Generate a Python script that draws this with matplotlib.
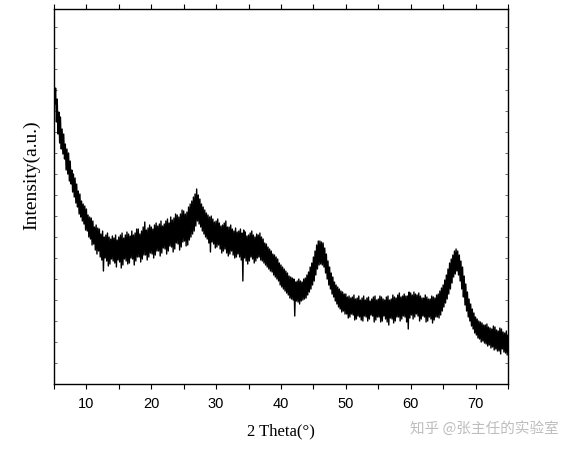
import numpy as np
import matplotlib
matplotlib.use('Agg')
import matplotlib.pyplot as plt
from matplotlib.ticker import MultipleLocator

# top and bottom of the noisy band, read every 0.25 deg from 5 to 75 (one row per degree)
upper = [303, 296, 285, 272,  267, 255, 250, 240,  235, 231, 223, 214,  210, 206, 200, 193,
         190, 183, 180, 178,  175, 169, 167, 166,  163, 157, 159, 156,  155, 150, 153, 147,
         149, 151, 147, 145,  148, 146, 149, 144,  147, 149, 151, 146,  149, 152, 150, 148,
         153, 149, 151, 155,  155, 150, 153, 157,  162, 154, 156, 159,  157, 155, 159, 161,
         158, 160, 163, 158,  160, 163, 165, 161,  167, 164, 166, 170,  169, 167, 170, 174,
         173, 170, 172, 177,  180, 183, 187, 190,  195, 189, 185, 180,  177, 174, 171, 169,
         167, 168, 165, 162,  163, 165, 161, 158,  159, 161, 163, 157,  157, 159, 155, 153,
         156, 152, 153, 155,  151, 154, 152, 148,  149, 151, 153, 149,  147, 150, 149, 151,
         147, 145, 141, 140,  137, 135, 133, 130,  129, 127, 125, 121,  119, 117, 115, 113,
         111, 108, 107, 106,  105, 102, 103, 105,  103, 102, 105, 106,  109, 112, 117, 121,
         127, 133, 139, 143,  143, 142, 141, 136,  130, 123, 117, 111,  107, 102, 99, 97,
         95, 93, 92, 90,      90, 87, 88, 86,      87, 89, 85, 86,      88, 84, 86, 88,
         84, 86, 87, 83,      85, 87, 88, 84,      85, 88, 87, 85,      84, 87, 88, 84,
         85, 89, 87, 86,      89, 91, 87, 88,      90, 88, 88, 92,      91, 89, 92, 90,
         89, 91, 88, 86,      86, 89, 87, 85,      85, 88, 87, 86,      89, 90, 93, 96,
         99, 104, 109, 115,   121, 125, 129, 133,  135, 133, 129, 123,  117, 108, 100, 92,
         85, 80, 75, 71,      67, 65, 63, 62,      61, 59, 59, 60,      57, 56, 55, 58,
         57, 54, 53, 56,      55, 52, 51, 53,      49]

lower = [280, 262, 250, 241,  235, 230, 225, 214,  210, 203, 200, 192,  187, 181, 177, 170,
         167, 163, 160, 154,  153, 147, 145, 139,  140, 134, 130, 133,  127, 124, 113, 126,
         123, 118, 120, 125,  123, 121, 117, 124,  122, 116, 119, 125,  123, 120, 121, 126,
         125, 119, 123, 127,  127, 122, 125, 129,  129, 124, 127, 131,  130, 126, 129, 133,
         133, 128, 131, 136,  135, 130, 133, 138,  137, 132, 135, 141,  140, 134, 137, 142,
         143, 138, 139, 144,  147, 150, 153, 158,  163, 160, 157, 153,  150, 147, 145, 141,
         132, 142, 140, 136,  137, 139, 135, 131,  133, 135, 131, 128,  130, 133, 129, 126,
         127, 130, 127, 124,  103, 126, 123, 120,  123, 127, 125, 121,  123, 126, 127, 124,
         123, 121, 119, 117,  115, 113, 112, 109,  107, 105, 103, 99,   97, 95, 93, 91,
         89, 86, 85, 84,      68, 83, 82, 80,      83, 84, 85, 86,      89, 92, 95, 99,
         103, 109, 115, 119,  120, 119, 117, 111,  105, 99, 95, 90,    87, 83, 80, 77,
         75, 72, 73, 70,      70, 66, 67, 70,      69, 64, 65, 68,      67, 64, 63, 68,
         67, 63, 65, 69,      68, 62, 64, 67,      67, 62, 63, 68,      65, 62, 59, 66,
         65, 61, 63, 67,      67, 63, 65, 68,      67, 62, 55, 66,      69, 65, 67, 70,
         68, 63, 65, 68,      67, 62, 63, 67,      65, 61, 64, 67,      67, 66, 69, 73,
         77, 81, 85, 90,      95, 101, 107, 110,   113, 109, 103, 95,   87, 79, 73, 67,
         63, 58, 55, 51,      49, 46, 45, 42,      43, 41, 40, 38,      39, 36, 37, 34,
         35, 33, 33, 30,      35, 32, 31, 29,      33]

theta = 5.0 + 0.25 * np.arange(len(upper))

# alternate top / bottom readings so the trace looks like the noisy scan
x = np.empty(2 * len(theta))
y = np.empty(2 * len(theta))
x[0::2] = theta
x[1::2] = theta + 0.125
y[0::2] = upper
y[1::2] = lower

fig = plt.figure(figsize=(5.73, 4.52), dpi=100)
ax = fig.add_axes([0.0942, 0.1482, 0.7923, 0.8296])

ax.plot(x, y, color='black', lw=1.0)

ax.set_xlim(5, 75)
ax.set_ylim(0, 375)
ax.xaxis.set_major_locator(MultipleLocator(10))
ax.xaxis.set_minor_locator(MultipleLocator(5))
ax.yaxis.set_major_locator(MultipleLocator(21))
ax.set_yticklabels([])

ax.tick_params(axis='x', which='both', direction='out', length=3.5, width=0.8,
               top=True, labelsize=10.5, pad=5)
ax.tick_params(axis='y', which='both', direction='in', length=2, width=0.6,
               right=True, color='#555555')
for lab in ax.get_xticklabels():
    lab.set_family('Liberation Sans')
for s in ax.spines.values():
    s.set_linewidth(1.0)

ax.set_xlabel('2 Theta(°)', family='Liberation Serif', fontsize=12, labelpad=9)
ax.set_ylabel('Intensity(a.u.)', family='Liberation Serif', fontsize=14)
ax.yaxis.set_label_coords(-0.03, 0.56)

fig.text(0.976, 0.053, '知乎 @张主任的实验室', ha='right', va='center',
         family=['Noto Sans CJK SC', 'DejaVu Sans'], fontsize=10.5, color='#bdbdbd')

fig.savefig('out.png', dpi=100)
